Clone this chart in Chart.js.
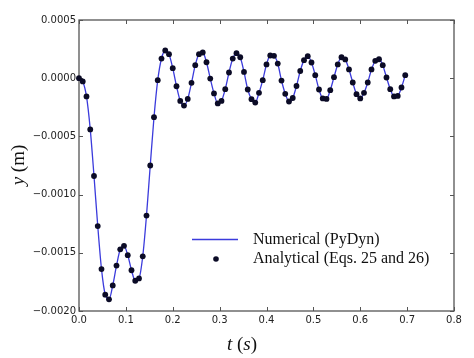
<!DOCTYPE html>
<html>
<head>
<meta charset="utf-8">
<script src="https://cdn.jsdelivr.net/npm/chart.js@4"></script>
<style>
  html, body { margin: 0; padding: 0; background: #fff; }
  #wrap { width: 474px; height: 358px; }
</style>
</head>
<body>
<div id="wrap"><canvas id="c" width="474" height="358"></canvas></div>
<script>
// time (s)
const timeS = [0,0.008,0.016,0.024,0.032,0.040,0.048,0.056,0.064,0.072,
0.080,0.088,0.096,0.104,0.112,0.120,0.128,0.136,0.144,0.152,
0.160,0.168,0.176,0.184,0.192,0.200,0.208,0.216,0.224,0.232,
0.240,0.248,0.256,0.264,0.272,0.280,0.288,0.296,0.304,0.312,
0.320,0.328,0.336,0.344,0.352,0.360,0.368,0.376,0.384,0.392,
0.400,0.408,0.416,0.424,0.432,0.440,0.448,0.456,0.464,0.472,
0.480,0.488,0.496,0.504,0.512,0.520,0.528,0.536,0.544,0.552,
0.560,0.568,0.576,0.584,0.592,0.600,0.608,0.616,0.624,0.632,
0.640,0.648,0.656,0.664,0.672,0.680,0.688,0.696];
// displacement y (m), analytical solution
const analyticalY = [0,-0.000028,-0.000157,-0.00044,-0.00084,-0.00127,-0.00164,-0.00186,-0.0019,-0.00178,
-0.00161,-0.00147,-0.00144,-0.00152,-0.00165,-0.00174,-0.00172,-0.00153,-0.00118,-0.00075,
-0.000335,-0.000017,0.000169,0.000238,0.000206,0.000086,-0.000069,-0.000195,-0.000235,-0.000178,
-0.00004,0.000112,0.000206,0.000221,0.000137,-0.000003,-0.000131,-0.000217,-0.000195,-0.000094,
0.000049,0.000169,0.000215,0.00018,0.000054,-0.000097,-0.00018,-0.000209,-0.000126,-0.000017,
0.000118,0.000195,0.000192,0.000126,-0.00002,-0.000134,-0.0002,-0.00017,-0.000067,0.000062,
0.000155,0.000189,0.000135,0.000026,-0.000097,-0.000174,-0.000178,-0.000103,0.000009,0.000118,
0.00018,0.000161,0.000075,-0.000037,-0.000137,-0.000174,-0.000126,-0.000037,0.000075,0.000149,
0.000163,0.000112,0.000006,-0.000094,-0.000157,-0.000152,-0.00008,0.000026];
// numerical solution (PyDyn) follows the same samples
const numericalY = analyticalY.slice();
const xTicks = [0,0.1,0.2,0.3,0.4,0.5,0.6,0.7,0.8];
const yTicks = [-0.002,-0.0015,-0.001,-0.0005,0,0.0005];
const legendLabels = ['Numerical (PyDyn)', 'Analytical (Eqs. 25 and 26)'];

const lineColor = '#3b3bdc';
const dotColor = '#0b0b26';

const framePlugin = {
  id: 'frame',
  beforeDatasetsDraw(chart) {
    const { ctx, chartArea: a, scales: { x, y } } = chart;
    ctx.save();
    ctx.strokeStyle = '#555';
    ctx.lineWidth = 1.3;
    ctx.strokeRect(a.left, a.top, a.right - a.left, a.bottom - a.top);
    ctx.lineWidth = 1;
    ctx.beginPath();
    xTicks.forEach(v => {
      const p = Math.round(x.getPixelForValue(v)) + 0.5;
      ctx.moveTo(p, a.bottom); ctx.lineTo(p, a.bottom - 4);
      ctx.moveTo(p, a.top); ctx.lineTo(p, a.top + 4);
    });
    yTicks.forEach(v => {
      const p = Math.round(y.getPixelForValue(v)) + 0.5;
      ctx.moveTo(a.left, p); ctx.lineTo(a.left + 4, p);
      ctx.moveTo(a.right, p); ctx.lineTo(a.right - 4, p);
    });
    ctx.stroke();
    ctx.restore();
  },
  afterDraw(chart) {
    const { ctx } = chart;
    ctx.save();
    ctx.fillStyle = '#111';
    // x title: t (s)
    const xs = [['italic 19px "Liberation Serif"', 't'], ['19px "Liberation Serif"', ' ('], ['italic 19px "Liberation Serif"', 's'], ['19px "Liberation Serif"', ')']];
    let w = 0;
    xs.forEach(([f, s]) => { ctx.font = f; w += ctx.measureText(s).width; });
    let cx = 242 - w / 2;
    ctx.textBaseline = 'middle';
    xs.forEach(([f, s]) => { ctx.font = f; ctx.fillText(s, cx, 345); cx += ctx.measureText(s).width; });
    // y title: y (m)
    ctx.translate(19, 165);
    ctx.rotate(-Math.PI / 2);
    const ys = [['italic 19px "Liberation Serif"', 'y'], ['19px "Liberation Serif"', ' (m)']];
    w = 0;
    ys.forEach(([f, s]) => { ctx.font = f; w += ctx.measureText(s).width; });
    cx = -w / 2;
    ys.forEach(([f, s]) => { ctx.font = f; ctx.fillText(s, cx, 0); cx += ctx.measureText(s).width; });
    ctx.setTransform(1, 0, 0, 1, 0, 0);
    // legend
    ctx.strokeStyle = lineColor;
    ctx.lineWidth = 1.3;
    ctx.beginPath(); ctx.moveTo(192, 239.5); ctx.lineTo(238, 239.5); ctx.stroke();
    ctx.fillStyle = dotColor;
    ctx.beginPath(); ctx.arc(216, 259, 2.8, 0, Math.PI * 2); ctx.fill();
    ctx.fillStyle = '#111';
    ctx.font = '16px "Liberation Serif"';
    ctx.textBaseline = 'middle';
    ctx.fillText(legendLabels[0], 253, 240);
    ctx.fillText(legendLabels[1], 253, 259);
    ctx.restore();
  }
};

const fmtY = v => {
  const s = Math.abs(v).toFixed(4);
  return v < -1e-9 ? '\u2212' + s : s;
};

new Chart(document.getElementById('c'), {
  type: 'line',
  data: {
    datasets: [
      {
        label: legendLabels[1],
        data: timeS.map((t, i) => ({ x: t, y: analyticalY[i] })),
        showLine: false,
        pointRadius: 2.9,
        pointBackgroundColor: dotColor,
        pointBorderWidth: 0,
        order: 0,
        clip: false
      },
      {
        label: legendLabels[0],
        data: timeS.map((t, i) => ({ x: t, y: numericalY[i] })),
        borderColor: lineColor,
        borderWidth: 1.3,
        pointRadius: 0,
        cubicInterpolationMode: 'monotone',
        fill: false,
        order: 1,
        clip: false
      }
    ]
  },
  options: {
    responsive: false,
    devicePixelRatio: 1,
    animation: false,
    layout: { padding: { top: 20, right: 20, left: 0, bottom: 0 } },
    plugins: { legend: { display: false }, tooltip: { enabled: false } },
    scales: {
      x: {
        type: 'linear', min: 0, max: 0.8,
        grid: { display: false, drawTicks: false },
        border: { display: false },
        afterBuildTicks: s => { s.ticks = xTicks.map(v => ({ value: v })); },
        afterFit: s => { s.height = 47; },
        ticks: {
          padding: 3,
          color: '#222',
          font: { family: 'DejaVu Sans', size: 10 },
          maxRotation: 0,
          callback: v => Number(v).toFixed(1)
        }
      },
      y: {
        type: 'linear', min: -0.002, max: 0.0005,
        grid: { display: false, drawTicks: false },
        border: { display: false },
        afterBuildTicks: s => { s.ticks = yTicks.map(v => ({ value: v })); },
        afterFit: s => { s.width = 79; },
        ticks: {
          padding: 3,
          color: '#222',
          font: { family: 'DejaVu Sans', size: 10 },
          callback: v => fmtY(v)
        }
      }
    }
  },
  plugins: [framePlugin]
});
</script>
</body>
</html>
